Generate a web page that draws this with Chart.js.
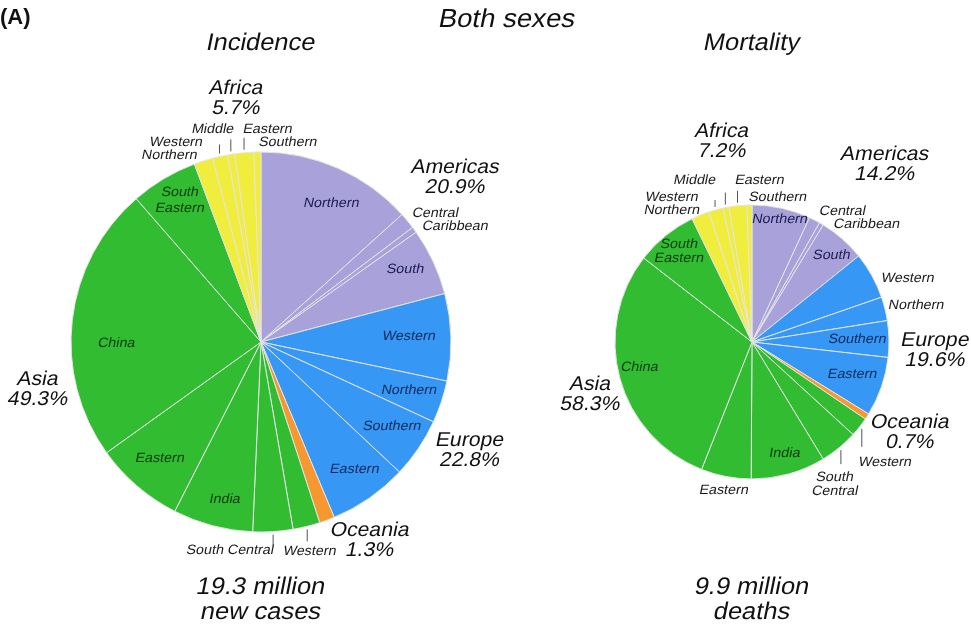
<!DOCTYPE html>
<html>
<head>
<meta charset="UTF-8">
<title>Both sexes - incidence and mortality by region</title>
<script src="https://cdn.jsdelivr.net/npm/chart.js"></script>
<style>
  body { margin: 0; background: #fff; }
  #wrap { position: relative; width: 971px; height: 635px; }
  canvas { position: absolute; left: 0; top: 0; }
</style>
</head>
<body>
<div id="wrap">
  <canvas id="incChart" width="971" height="635"></canvas>
  <canvas id="morChart" width="971" height="635"></canvas>
</div>
<script>
// ---- data (percent of world total), clockwise from 12 o'clock ----
const regions = ['Americas', 'Europe', 'Oceania', 'Asia', 'Africa'];
const subregions = ['Northern', 'Central', 'Caribbean', 'South',
  'Western', 'Northern', 'Southern', 'Eastern',
  'Oceania',
  'Western', 'South Central', 'India', 'Eastern', 'China', 'South Eastern',
  'Northern', 'Western', 'Middle', 'Eastern', 'Southern'];
const regionOf = [0,0,0,0, 1,1,1,1, 2, 3,3,3,3,3,3, 4,4,4,4,4];
const incidence = [13.3, 1.4, 0.5, 5.7, 7.4, 3.6, 5.1, 6.7, 1.3,
  2.3, 3.4, 6.8, 7.6, 23.5, 5.7, 1.6, 1.3, 0.6, 1.6, 0.6];
const mortality = [6.9, 1.3, 0.5, 5.5, 5.5, 2.8, 4.3, 7.0, 0.7,
  2.3, 4.5, 8.8, 5.9, 29.5, 7.3, 2.1, 1.7, 0.7, 2.1, 0.6];
const panelTitles = ['Incidence', 'Mortality'];
const totalTexts = ['19.3 million\nnew cases', '9.9 million\ndeaths'];

// ---- styles ----
const regionColors = ['#a8a1da', '#3797f5', '#f6982f', '#31bc31', '#f1ed3c'];
const insideText = ['#1c1c50', '#0e2a5c', '#222', '#0c3a0c', '#333'];
const FONT = "'Liberation Sans', Arial, sans-serif";
const STRETCH = 1.06;
const SLANT = -0.2;   // fake oblique

// per slice label placement: [radius factor, angle shift (deg), wrap, leader length]
const incLabels = [
  [0.82, 3], [1.14, 3.3], [1.19, 5.5], [0.85, -1.6],
  [0.78, -0.6], [0.82, -0.4], [0.82, -1.3], [0.83, -1.7],
  null,
  [1.13, 0.7, false, 12], [1.11, 12, false, 12], [0.85, -1.9], [0.81, 0.3], [0.76, -7], [0.86, 1.1, true],
  [1.095, -8.4], [1.14, -10.6, false, 9], [1.15, -3.7, false, 12], [1.12, 6.9, false, 12], [1.06, 8.8]
];
const morLabels = [
  [0.92, 0.4], [1.16, 7.6], [1.2, 13.9], [0.86, 1.4],
  [1.23, 6.7], [1.23, 1.4], [0.77, -0.3], [0.77, -1.4],
  null,
  [1.31, 3.7, false, 18], [1.2, 9.1, true, 14], [0.85, -0.9], [1.1, -0.3], [0.84, 2.7], [0.85, 0.4, true],
  [1.125, -9.1], [1.21, -13.6, false, 7], [1.25, -8.5, false, 12], [1.18, 8.7, false, 12], [1.07, 11.3]
];
// region labels: [radius factor, angle shift]
const incGroups = [[1.34, 12.2], [1.24, 1.2], [1.19, -8.5], [1.2, 7.2], [1.29, 4.5]];
const morGroups = [[1.62, 11.3], [1.34, 6.4], [1.33, -3.2], [1.24, 22.8], [1.48, 4.5]];

function drawText(ctx, s, x, y, size, color, lh) {
  const lines = s.split('\n');
  ctx.save();
  ctx.font = size + 'px ' + FONT;
  ctx.fillStyle = color;
  ctx.textAlign = 'center';
  ctx.textBaseline = 'middle';
  lines.forEach((ln, i) => {
    const yy = y + (i - (lines.length - 1) / 2) * lh;
    ctx.save();
    ctx.translate(x, yy);
    ctx.transform(STRETCH, 0, SLANT, 1, 0, 0);
    ctx.fillText(ln, 0, 0);
    ctx.restore();
  });
  ctx.restore();
}

function makeLabelPlugin(values, sliceLabels, groupLabels, idx) {
  return {
    id: 'regionLabels' + idx,
    afterDraw(chart) {
      const ctx = chart.ctx;
      const arcs = chart.getDatasetMeta(0).data;
      const total = values.reduce((a, b) => a + b, 0);
      const polar = (arc, ang, r) => [arc.x + Math.cos(ang) * r, arc.y + Math.sin(ang) * r];

      arcs.forEach((arc, i) => {
        const st = sliceLabels[i];
        if (!st) return;
        const mid = (arc.startAngle + arc.endAngle) / 2;
        const R = arc.outerRadius;
        const inside = st[0] < 1;
        const name = st[2] ? subregions[i].replace(' ', '\n') : subregions[i];
        const [x, y] = polar(arc, mid + st[1] * Math.PI / 180, R * st[0]);
        const lh = idx === 0 ? 16 : 14;
        drawText(ctx, name, x, y, 13.5, inside ? insideText[regionOf[i]] : '#1a1a1a', lh);
        if (st[3]) {
          const [px, py] = polar(arc, mid, R + 3);
          const dir = py > arc.y ? 1 : -1;
          ctx.save();
          ctx.strokeStyle = '#555';
          ctx.lineWidth = 1;
          ctx.beginPath();
          ctx.moveTo(px, py);
          ctx.lineTo(px, py + dir * st[3]);
          ctx.stroke();
          ctx.restore();
        }
      });

      // region totals
      regions.forEach((name, g) => {
        let before = 0, sum = 0;
        values.forEach((v, i) => {
          if (regionOf[i] < g) before += v;
          if (regionOf[i] === g) sum += v;
        });
        const a0 = arcs[0];
        const mid = ((before + sum / 2) / total) * 2 * Math.PI - Math.PI / 2;
        const st = groupLabels[g];
        const [x, y] = polar(a0, mid + st[1] * Math.PI / 180, a0.outerRadius * st[0]);
        drawText(ctx, name + '\n' + (sum / total * 100).toFixed(1) + '%', x, y, 20, '#111', 20);
      });

      const cx = arcs[0].x;
      drawText(ctx, panelTitles[idx], cx, 43, 24, '#111', 25);
      drawText(ctx, totalTexts[idx], cx, 600, 24, '#111', 25);
      if (idx === 0) {
        drawText(ctx, 'Both sexes', 507, 20, 26, '#111', 25);
        ctx.save();
        ctx.font = 'bold 22px ' + FONT;
        ctx.fillStyle = '#111';
        ctx.textBaseline = 'middle';
        ctx.fillText('(A)', 0, 18);
        ctx.restore();
      }
    }
  };
}

function makePie(canvasId, values, radius, padding, sliceLabels, groupLabels, idx) {
  return new Chart(document.getElementById(canvasId), {
    type: 'pie',
    data: {
      labels: subregions,
      datasets: [{
        data: values,
        backgroundColor: regionOf.map(r => regionColors[r]),
        borderColor: '#e4e4e4',
        borderWidth: 1,
        radius: radius
      }]
    },
    options: {
      responsive: false,
      animation: false,
      devicePixelRatio: 1,
      layout: { padding: padding },
      plugins: { legend: { display: false }, tooltip: { enabled: false } }
    },
    plugins: [makeLabelPlugin(values, sliceLabels, groupLabels, idx)]
  });
}

makePie('incChart', incidence, 190, { left: 0, right: 449, top: 49, bottom: 0 }, incLabels, incGroups, 0);
makePie('morChart', mortality, 137, { left: 533, right: 0, top: 49, bottom: 0 }, morLabels, morGroups, 1);
</script>
</body>
</html>
